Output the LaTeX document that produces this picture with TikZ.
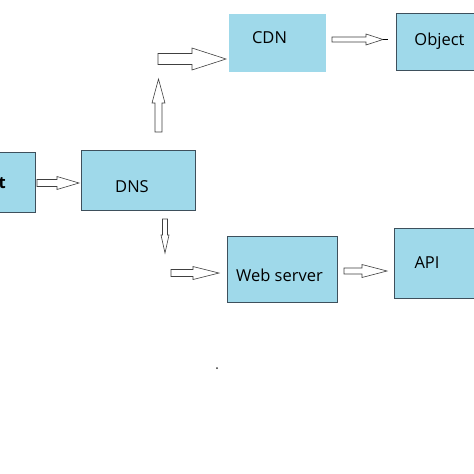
\documentclass[tikz,border=0pt]{standalone}
\usepackage{fontspec}
\setmainfont{Open Sans}
\usetikzlibrary{calc}

\definecolor{boxfill}{RGB}{159,217,234}
\definecolor{boxline}{RGB}{62,80,92}

\tikzset{
	box/.style={draw=boxline, fill=boxfill, line width=0.9pt, inner sep=0, anchor=north west},
	flatbox/.style={fill=boxfill, inner sep=0, anchor=north west},
	txt/.style={font=\fontsize{16.5}{19}\selectfont, inner sep=0},
	arrowline/.style={draw=black!75, fill=white, line width=0.6pt, line join=miter},
}

% hollow block arrow: start, tip, shaft half width, head half width, head length
\newcommand{\blockarrow}[5]{%
	\coordinate (h) at ($(#2)!#5!(#1)$);
	\draw[arrowline] ($(#1)!#3!90:(#2)$) -- ($(h)!#3!90:(#2)$) -- ($(h)!#4!90:(#2)$)
	-- (#2) -- ($(h)!#4!-90:(#2)$) -- ($(h)!#3!-90:(#2)$) -- ($(#1)!#3!-90:(#2)$) -- cycle;
}

\begin{document}
\begin{tikzpicture}[x=1pt, y=-1pt]
	\clip (0,0) rectangle (474,474);
	\fill[white] (0,0) rectangle (474,474);
	
	% boxes
	\node[box, minimum width=80pt, minimum height=60pt] (client) at (-45,152) {};
	\node[box, minimum width=114pt, minimum height=60pt] (dns) at (81,150) {};
	\node[flatbox, minimum width=97pt, minimum height=58pt] (cdn) at (229,14) {};
	\node[box, minimum width=95pt, minimum height=57pt] (object) at (396,13) {};
	\node[box, minimum width=110pt, minimum height=66pt] (web) at (227,236) {};
	\node[box, minimum width=96pt, minimum height=70pt] (api) at (394,228) {};
	
	% labels
	\node[txt, anchor=east, font=\fontsize{16.5}{19}\selectfont\bfseries] (clientlbl) at (6,183) {t};
	\node[txt] (dnslbl) at (132,187) {DNS};
	\node[txt] (cdnlbl) at (269.5,38) {CDN};
	\node[txt] (objectlbl) at (439.5,41) {Object};
	\node[txt] (weblbl) at (279.5,275) {Web server};
	\node[txt] (apilbl) at (427,263) {API};
	
	% arrow ends
	\coordinate (a1s) at (37,183);   \coordinate (a1e) at (79,183);
	\coordinate (a2s) at (158.5,132); \coordinate (a2e) at (158.5,79);
	\coordinate (a3s) at (158,59);   \coordinate (a3e) at (226,59);
	\coordinate (a4s) at (332,39.5); \coordinate (a4e) at (383,39.5);
	\coordinate (a4t) at (388,39.5);
	\coordinate (a5s) at (165,219);  \coordinate (a5e) at (165,253);
	\coordinate (a6s) at (171,273);  \coordinate (a6e) at (219,273);
	\coordinate (a7s) at (344,271);  \coordinate (a7e) at (387,271);
	
	% block arrows
	\blockarrow{a1s}{a1e}{3.5pt}{6.5pt}{22pt}
	\blockarrow{a2s}{a2e}{3.5pt}{6.5pt}{24pt}
	\blockarrow{a3s}{a3e}{5.5pt}{11pt}{34pt}
	\blockarrow{a4s}{a4e}{2.5pt}{5.5pt}{17pt}
	\draw[line width=0.9pt] (a4e) -- (a4t);
	\blockarrow{a5s}{a5e}{2.5pt}{4pt}{18pt}
	\blockarrow{a6s}{a6e}{3.5pt}{6.5pt}{26pt}
	\blockarrow{a7s}{a7e}{3pt}{6.5pt}{25pt}
	
	% stray dot
	\fill[black!80] (217,368) circle (1pt);
\end{tikzpicture}
\end{document}
